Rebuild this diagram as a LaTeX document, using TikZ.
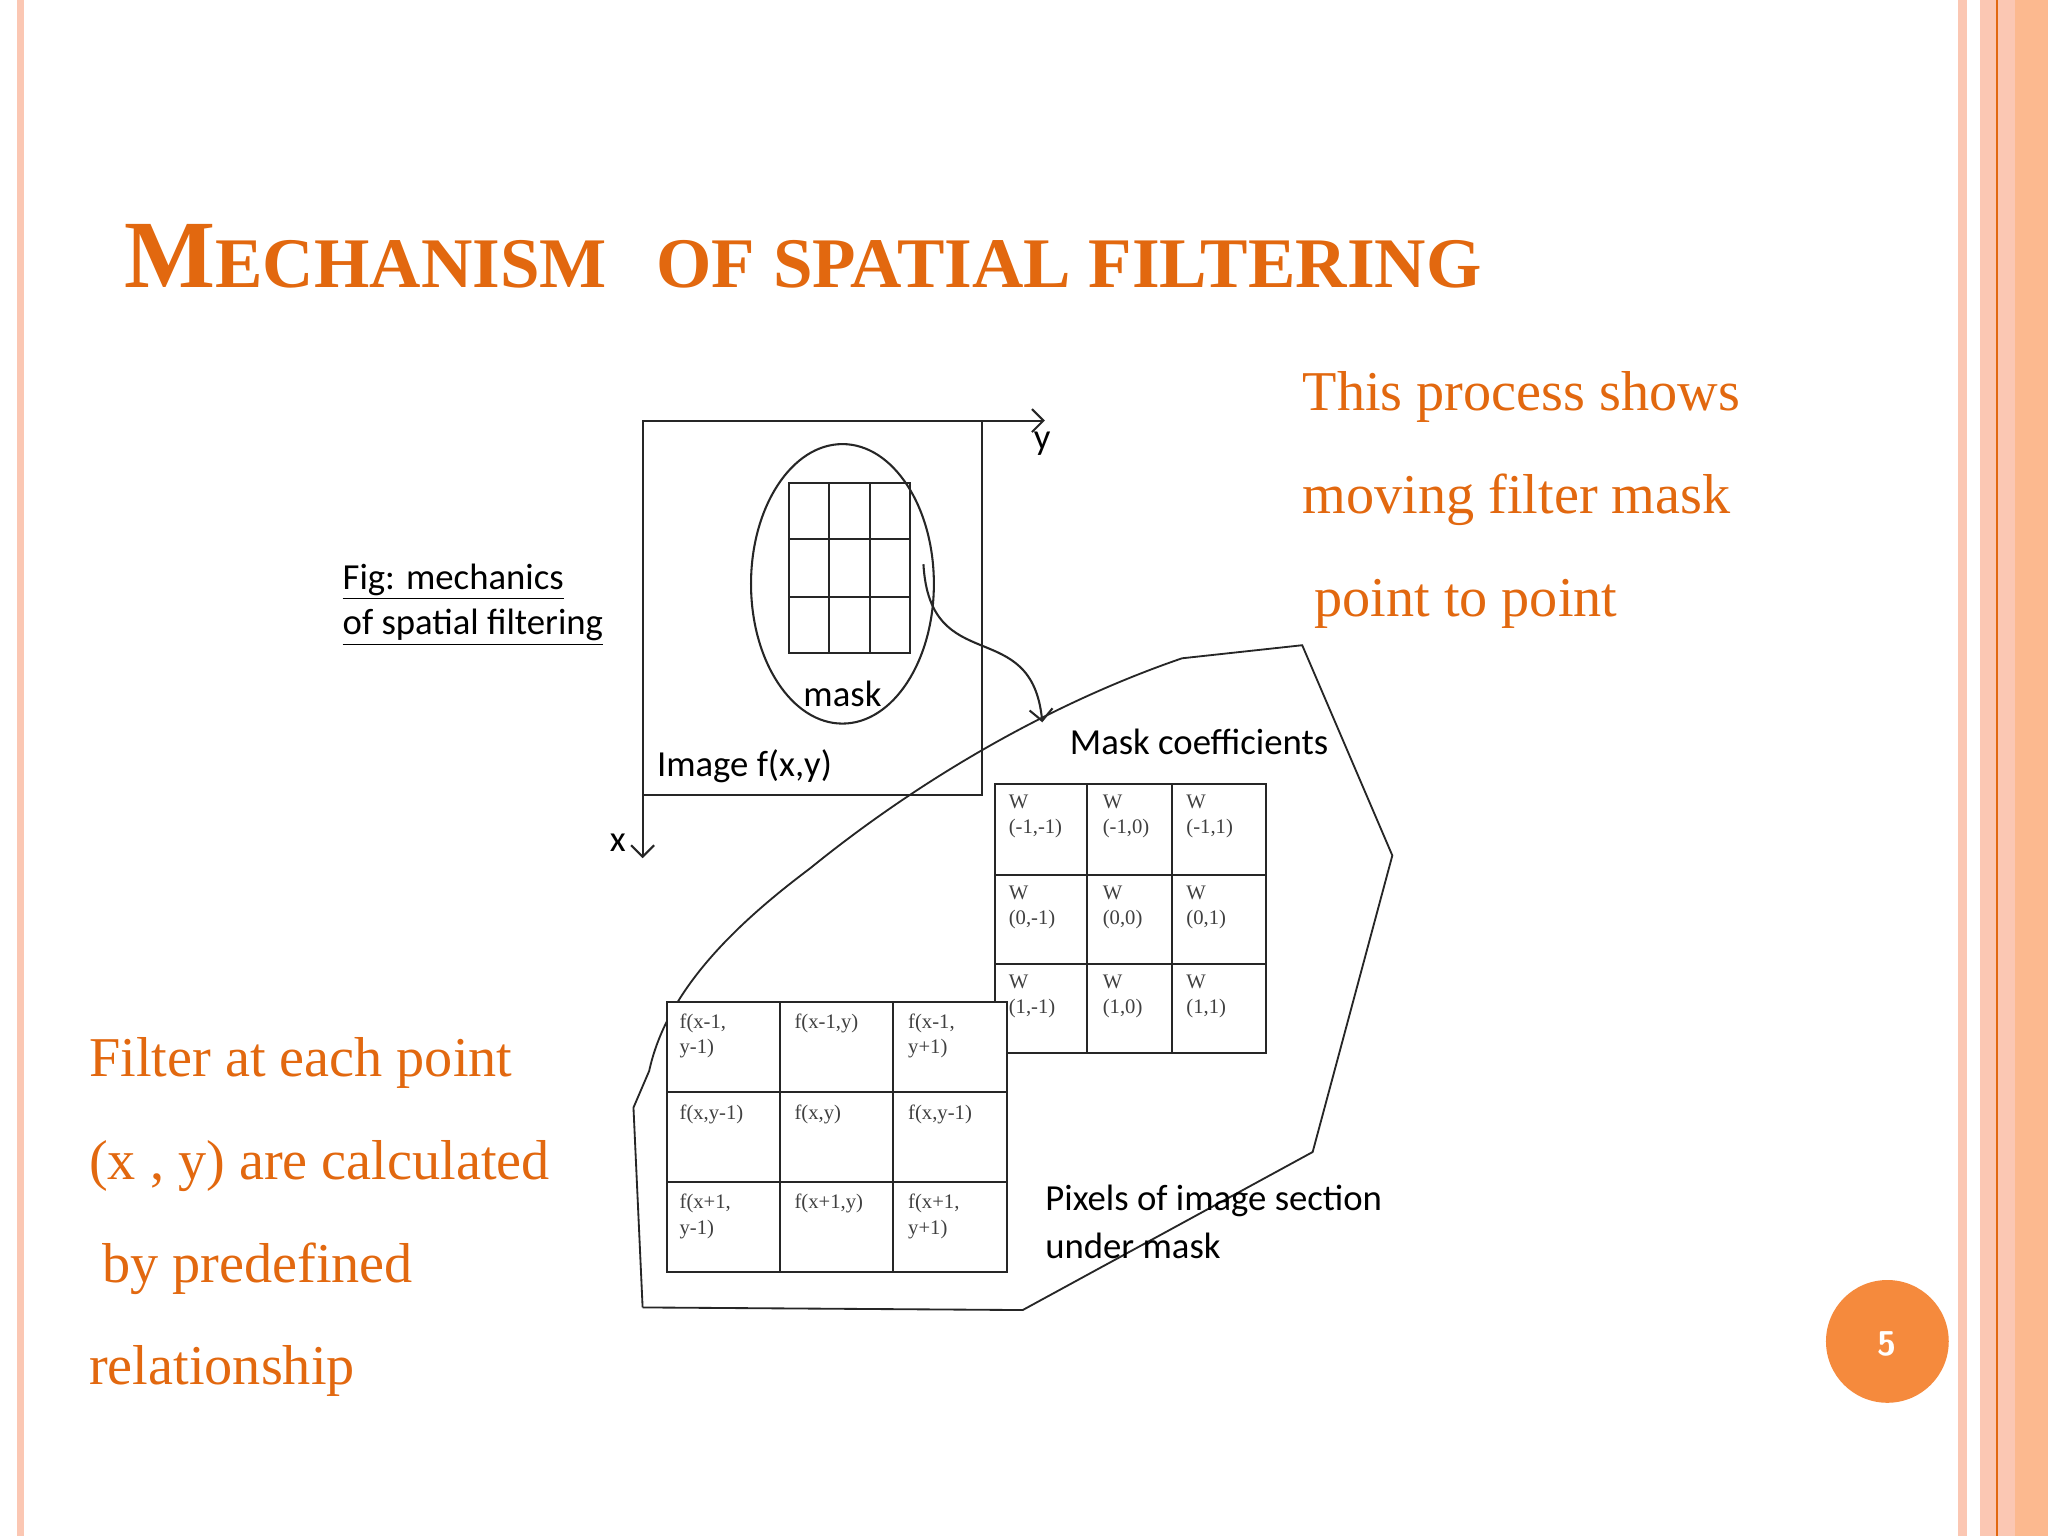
\documentclass[tikz,border=0pt]{standalone}
\usepackage{fontspec}
\setmainfont{Liberation Serif}
\newfontfamily\lab{Carlito}
\usetikzlibrary{arrows.meta}
\definecolor{org}{HTML}{E2680F}
\definecolor{pinkb}{HTML}{FBC7B3}
\definecolor{circ}{HTML}{F58A3D}
\tikzset{lbl/.style={font=\lab\fontsize{16}{19}\selectfont,inner sep=0},
 cell/.style={font=\fontsize{9}{11}\selectfont,inner sep=0,anchor=north west,align=left,text=black!75},
 body/.style={font=\fontsize{24.5}{29}\selectfont,text=org,anchor=base west,inner sep=0},
 ln/.style={line width=0.9pt,black!85}}
\begin{document}
\begin{tikzpicture}[x=0.02cm,y=-0.02cm]
\useasboundingbox (0,0) rectangle (1568,1176);
\fill[white] (0,0) rectangle (1568,1176);
% borders
\fill[pinkb] (13,0) rectangle (18,1176);
\fill[pinkb] (1499,0) rectangle (1506,1176);
\fill[pinkb] (1516,0) rectangle (1568,1176);
\fill[pinkb!80!orange] (1543,0) rectangle (1568,1176);
\draw[org,line width=0.8pt] (1529,0) -- (1529,1176);
% title
\node[anchor=base west,inner sep=0,text=org,font=\bfseries] (title) at (95,220)
 {\fontsize{42}{48}\selectfont M\fontsize{31}{38}\selectfont ECHANISM\hspace{0.45em} OF SPATIAL FILTERING};
% right text
\node[body] (r1) at (997,314) {This process shows};
\node[body] (r2) at (997,393) {moving filter mask};
\node[body] (r3) at (1006,472) {point to point};
% left text
\node[body] (l1) at (68,824) {Filter at each point};
\node[body] (l2) at (68,903) {(x , y) are calculated};
\node[body] (l3) at (78,982) {by predefined};
\node[body] (l4) at (68,1060) {relationship};
% page number
\fill[circ] (1445,1027) circle (47);
\node[text=white,font=\sffamily\bfseries\fontsize{15}{18}\selectfont] (pn) at (1445,1029) {5};
% big outline
\draw[ln,line width=0.8pt] (492,1001) -- (783,1003) -- (1005,882) -- (1066,655) -- (997,494) -- (905,504)
 .. controls (800,540) and (700,600) .. (620,665)
 .. controls (560,710) and (510,760) .. (497,820)
 -- (485,848) -- (492,1001);
% image box
\draw[ln] (492,322) rectangle (752,609);
\coordinate (yend) at (800,322);
\coordinate (xend) at (492,657);
\draw[ln,-{Straight Barb[length=5pt]}] (752,322) -- (yend);
\draw[ln,-{Straight Barb[length=5pt]}] (492,609) -- (xend);
\node[lbl] (ylab) at (798,340) {y};
\node[lbl] (xlab) at (473,645) {x};
\draw[ln] (645,447) ellipse (70 and 107);
\draw[ln] (604,370) rectangle (697,500);
\foreach \x in {635,666} \draw[ln] (\x,370) -- (\x,500);
\foreach \y in {413,457} \draw[ln] (604,\y) -- (697,\y);
\node[lbl] (mask) at (645,531) {mask};
\node[lbl] (img) at (570,587) {Image f(x,y)};
\coordinate (cs) at (707,432);
\coordinate (ce) at (798,553);
\draw[ln,-{Straight Barb[length=5pt]}] (cs) .. controls (712,520) and (790,470) .. (ce);
\node[lbl,align=left,anchor=west] (fig) at (262,463) {\underline{Fig: mechanics}\\[1pt]\underline{of spatial filtering}};
% mask coefficients
\node[lbl] (mc) at (918,568) {Mask coefficients};
\draw[ln] (762,600) rectangle (969,806);
\foreach \x in {832,897} \draw[ln] (\x,600) -- (\x,806);
\foreach \y in {670,738} \draw[ln] (762,\y) -- (969,\y);
\node[cell] (w1) at (772,608) {W\\(-1,-1)};
\node[cell] (w2) at (844,608) {W\\(-1,0)};
\node[cell] (w3) at (908,608) {W\\(-1,1)};
\node[cell] (w4) at (772,678) {W\\(0,-1)};
\node[cell] (w5) at (844,678) {W\\(0,0)};
\node[cell] (w6) at (908,678) {W\\(0,1)};
\node[cell] (w7) at (772,746) {W\\(1,-1)};
\node[cell] (w8) at (844,746) {W\\(1,0)};
\node[cell] (w9) at (908,746) {W\\(1,1)};
% pixel grid
\fill[white] (511,767) rectangle (771,974);
\draw[ln] (511,767) rectangle (771,974);
\foreach \x in {597,684} \draw[ln] (\x,767) -- (\x,974);
\foreach \y in {836,905} \draw[ln] (511,\y) -- (771,\y);
\node[cell] (p1) at (520,776) {f(x-1,\\y-1)};
\node[cell] (p2) at (608,776) {f(x-1,y)};
\node[cell] (p3) at (695,776) {f(x-1,\\y+1)};
\node[cell] (p4) at (520,846) {f(x,y-1)};
\node[cell] (p5) at (608,846) {f(x,y)};
\node[cell] (p6) at (695,846) {f(x,y-1)};
\node[cell] (p7) at (520,914) {f(x+1,\\y-1)};
\node[cell] (p8) at (608,914) {f(x+1,y)};
\node[cell] (p9) at (695,914) {f(x+1,\\y+1)};
\node[lbl,align=left,anchor=north west] (pix) at (800,907) {Pixels of image section\\[2pt]under mask};
\end{tikzpicture}
\end{document}
